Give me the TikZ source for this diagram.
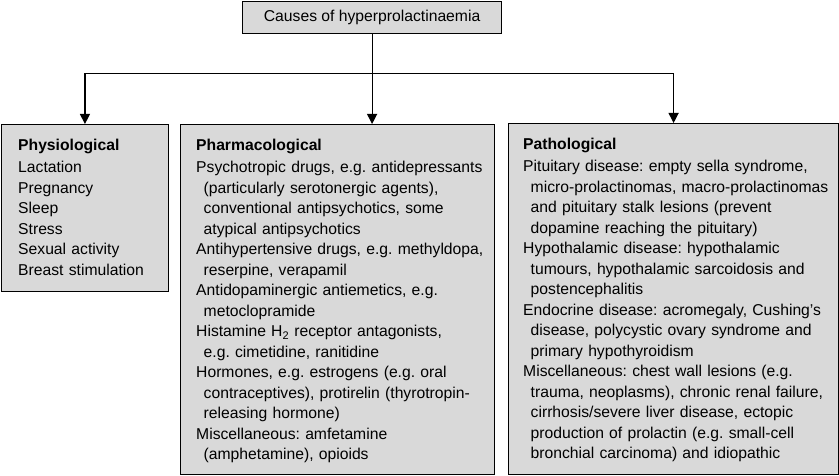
\documentclass[tikz,border=0pt]{standalone}
\usepackage{fontspec}
\setmainfont{Liberation Sans}
\usetikzlibrary{arrows.meta}
\definecolor{boxgray}{RGB}{217,217,217}
\newcommand{\myind}{\hspace*{7.5pt}}
\frenchspacing
\begin{document}
\begin{tikzpicture}[x=1pt,y=-1pt,
  box/.style={draw=black,fill=boxgray,line width=1.2pt,rectangle,inner sep=0pt,anchor=north west},
  txt/.style={anchor=north west,inner sep=0pt,align=left,text width=320pt,font=\frenchspacing\fontsize{15.7}{20.5}\selectfont},
  conn/.style={line width=1.2pt},
  arr/.style={conn,-{Triangle[length=10pt,width=10pt]}}]
\useasboundingbox (0,0) rectangle (839,476);
% boxes
\node[box,minimum width=259pt,minimum height=32.3pt,font=\fontsize{15.7}{18}\selectfont] (top) at (242,0.7) {Causes of hyperprolactinaemia};
\node[box,minimum width=167.3pt,minimum height=167pt] (phys) at (0.7,124) {};
\node[box,minimum width=314pt,minimum height=350pt] (pharm) at (180,124) {};
\node[box,minimum width=330pt,minimum height=351pt] (path) at (508,123) {};
% texts
\node[txt] (physT) at (18,139) {\textbf{Physiological}\\[1.5pt]
Lactation\\
Pregnancy\\
Sleep\\
Stress\\
Sexual activity\\
Breast stimulation};
\node[txt] (pharmT) at (196,139) {\textbf{Pharmacological}\\[1.5pt]
Psychotropic drugs, e.g. antidepressants\\
\myind(particularly serotonergic agents),\\
\myind conventional antipsychotics, some\\
\myind atypical antipsychotics\\
Antihypertensive drugs, e.g. methyldopa,\\
\myind reserpine, verapamil\\
Antidopaminergic antiemetics, e.g.\\
\myind metoclopramide\\
Histamine H\textsubscript{2} receptor antagonists,\\
\myind e.g. cimetidine, ranitidine\\
Hormones, e.g. estrogens (e.g. oral\\
\myind contraceptives), protirelin (thyrotropin-\\
\myind releasing hormone)\\
Miscellaneous: amfetamine\\
\myind(amphetamine), opioids};
\node[txt] (pathT) at (523,138) {\textbf{Pathological}\\[1.5pt]
Pituitary disease: empty sella syndrome,\\
\myind micro-prolactinomas, macro-prolactinomas\\
\myind and pituitary stalk lesions (prevent\\
\myind dopamine reaching the pituitary)\\
Hypothalamic disease: hypothalamic\\
\myind tumours, hypothalamic sarcoidosis and\\
\myind postencephalitis\\
Endocrine disease: acromegaly, Cushing’s\\
\myind disease, polycystic ovary syndrome and\\
\myind primary hypothyroidism\\
Miscellaneous: chest wall lesions (e.g.\\
\myind trauma, neoplasms), chronic renal failure,\\
\myind cirrhosis/severe liver disease, ectopic\\
\myind production of prolactin (e.g. small-cell\\
\myind bronchial carcinoma) and idiopathic};
% connectors
\path (top.south) ++(0,39) coordinate (split);
\draw[conn] (top.south) -- (split);
\draw[arr] (split) -| (phys.north);
\draw[arr] (split) -| (path.north);
\draw[arr] (split) -- (split |- pharm.north);
\end{tikzpicture}
\end{document}
